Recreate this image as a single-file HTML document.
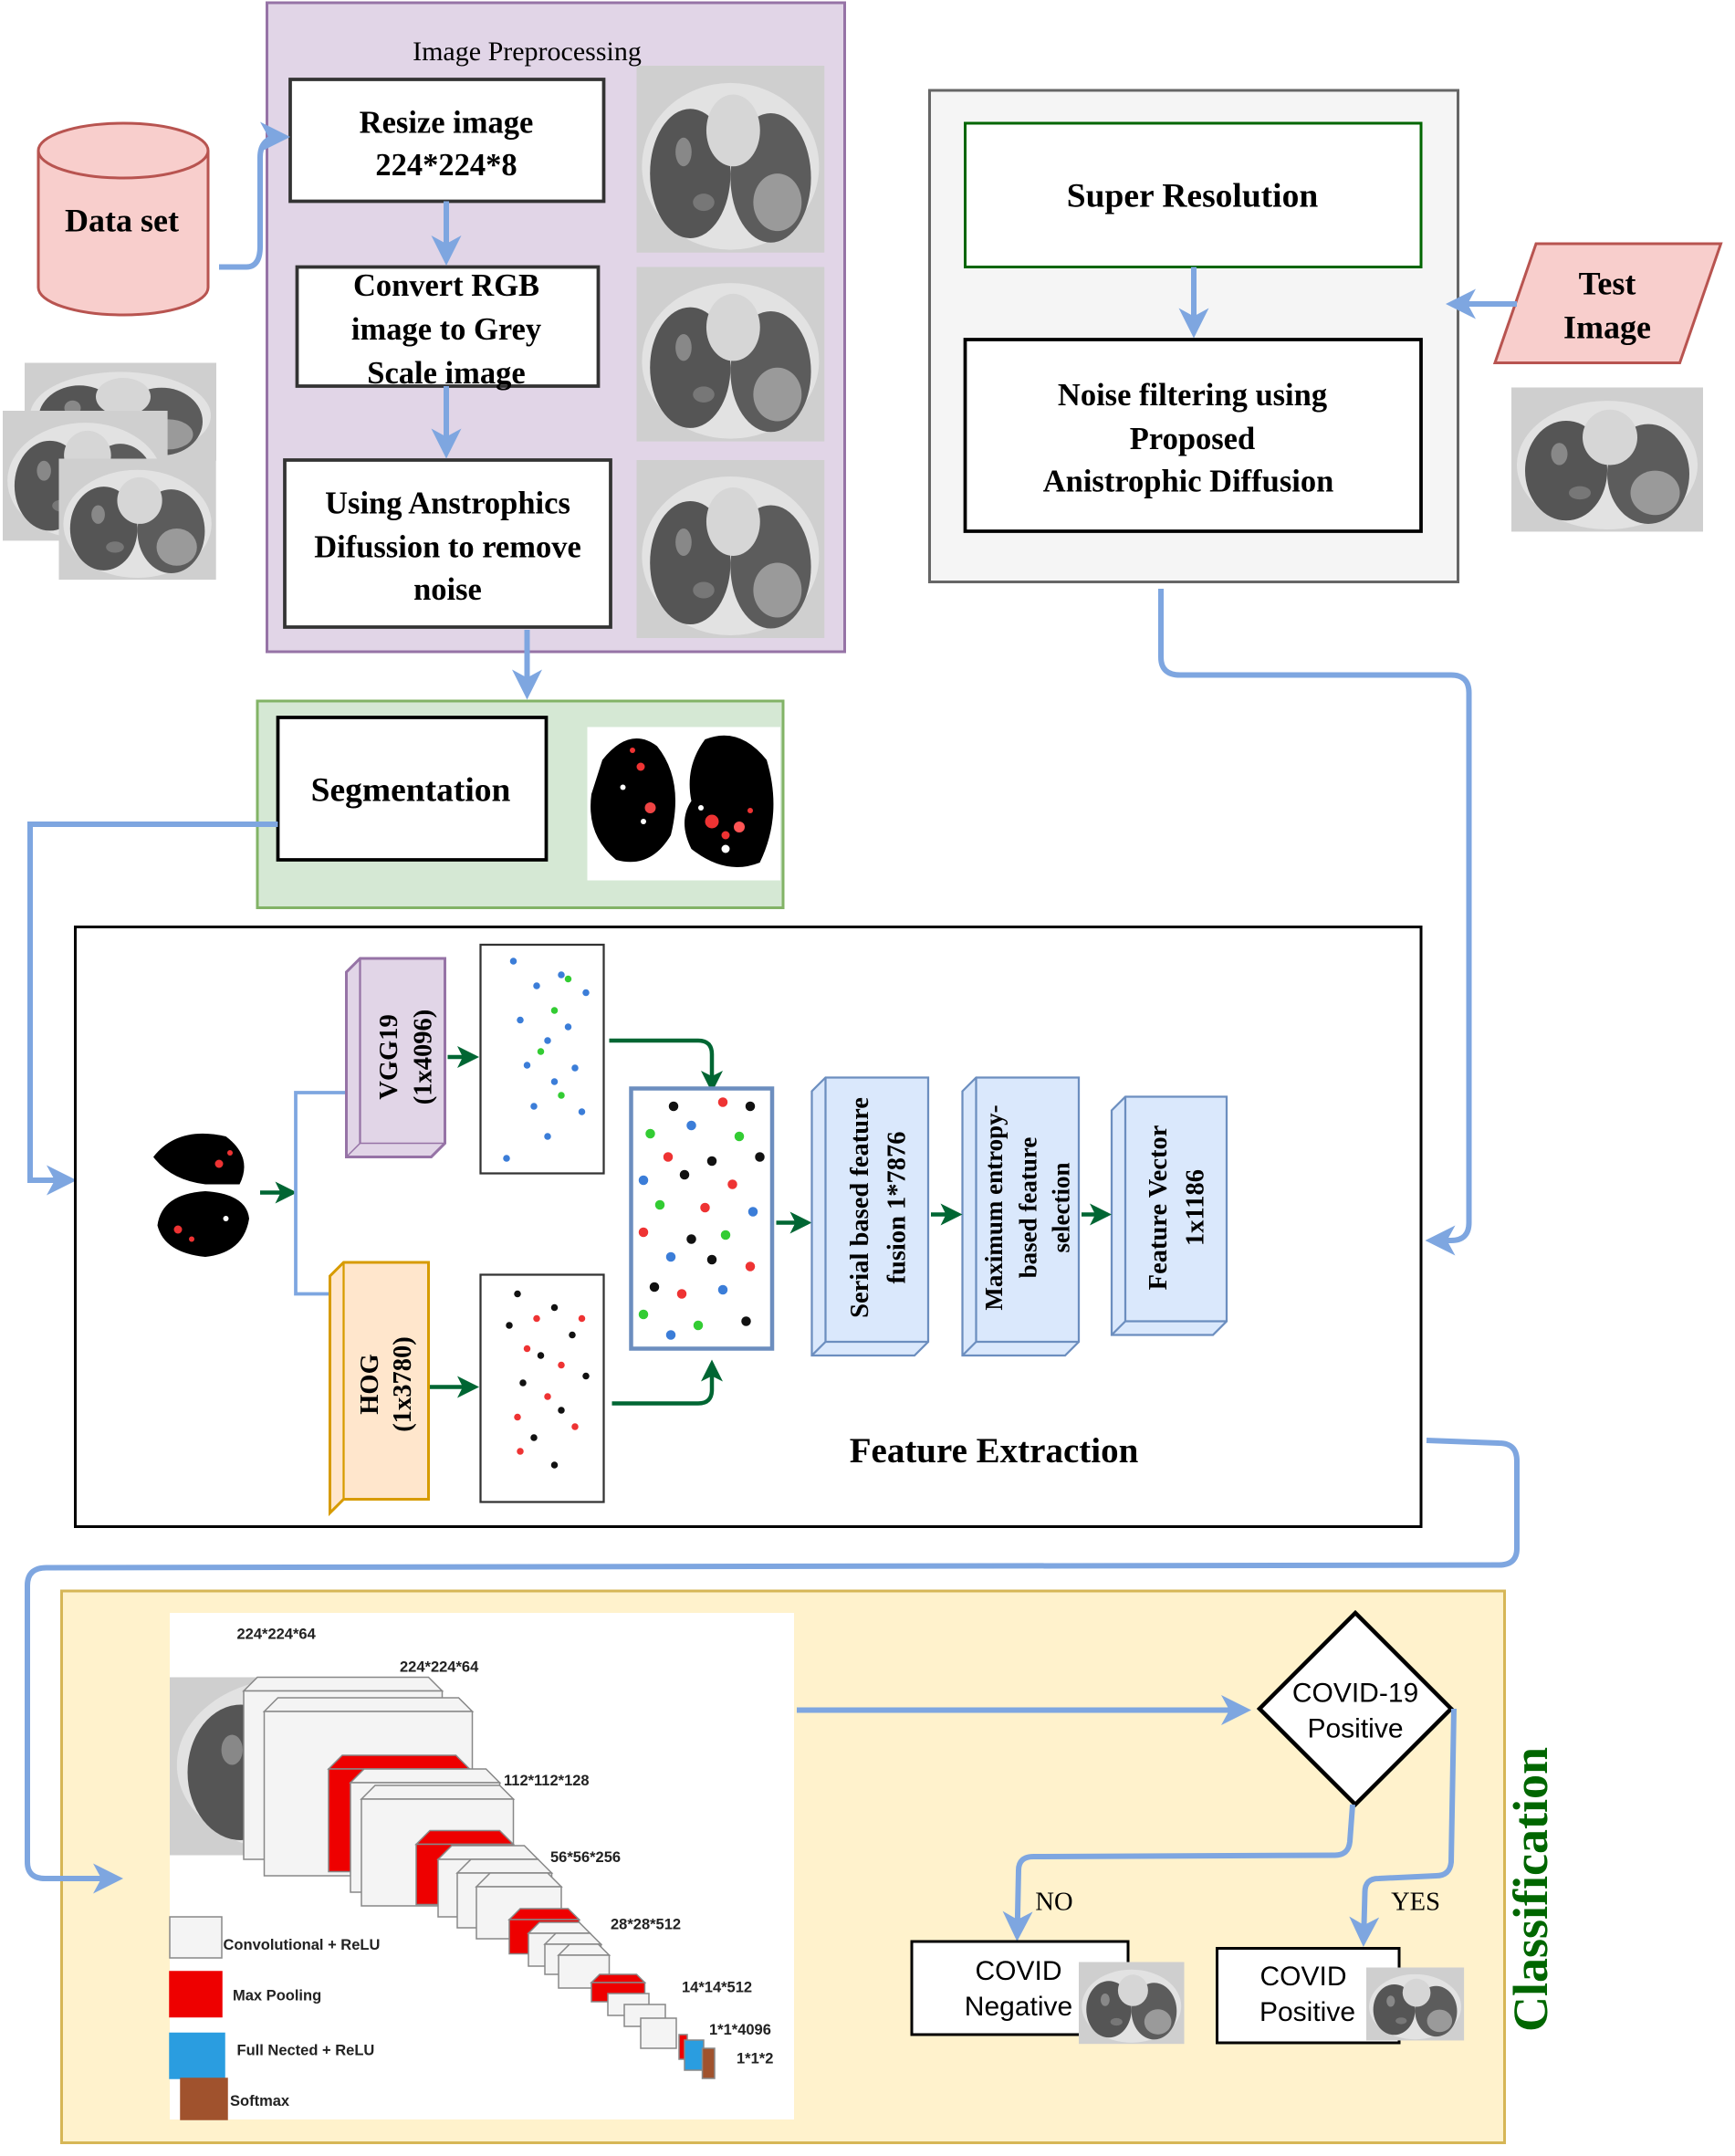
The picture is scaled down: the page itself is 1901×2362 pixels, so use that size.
<!DOCTYPE html>
<html><head><meta charset="utf-8"><style>
html,body{margin:0;padding:0;background:#fff;}
svg{display:block}
text{font-family:"Liberation Serif",serif;}
.s, .s text, text.s{font-family:"Liberation Sans",sans-serif !important;}
</style></head><body>
<svg width="1901" height="2362" viewBox="0 0 1267.33 1574.67" preserveAspectRatio="none" xmlns="http://www.w3.org/2000/svg">
<defs>
<marker id="abB" markerWidth="22" markerHeight="22" refX="18" refY="11" orient="auto" markerUnits="userSpaceOnUse" viewBox="0 0 22 22"><path d="M0,0 L22,11 L0,22 L6,11z" fill="#7ea6e0"/></marker>
<marker id="ag" markerWidth="16" markerHeight="16" refX="13" refY="8" orient="auto" markerUnits="userSpaceOnUse" viewBox="0 0 16 16"><path d="M0,0 L16,8 L0,16 L4,8z" fill="#006633"/></marker>
<g id="ctimg">
<rect width="140" height="130" fill="#cfcfcf"/>
<ellipse cx="70" cy="70" rx="66" ry="58" fill="#e2e2e2"/>
<ellipse cx="40" cy="75" rx="30" ry="45" fill="#555"/>
<ellipse cx="100" cy="78" rx="30" ry="45" fill="#5c5c5c"/>
<ellipse cx="72" cy="45" rx="20" ry="25" fill="#d6d6d6"/>
<ellipse cx="105" cy="95" rx="18" ry="20" fill="#9a9a9a"/>
<ellipse cx="35" cy="60" rx="6" ry="10" fill="#888"/>
<ellipse cx="50" cy="95" rx="8" ry="6" fill="#777"/>
</g>
</defs>

<!-- Image preprocessing -->
<rect x="195" y="2" width="422" height="474" fill="#e1d5e7" stroke="#9673a6" stroke-width="2"/>
<text x="385" y="44" font-size="20" text-anchor="middle">Image Preprocessing</text>
<rect x="212" y="58" width="229" height="89" fill="#fff" stroke="#333" stroke-width="2.5"/>
<text x="326" y="97" font-size="23" font-weight="bold" text-anchor="middle">Resize image</text>
<text x="326" y="128" font-size="23" font-weight="bold" text-anchor="middle">224*224*8</text>
<rect x="217" y="195" width="220" height="87" fill="#fff" stroke="#333" stroke-width="2.5"/>
<text x="326" y="216" font-size="23" font-weight="bold" text-anchor="middle">Convert RGB</text>
<text x="326" y="248" font-size="23" font-weight="bold" text-anchor="middle">image to Grey</text>
<text x="326" y="280" font-size="23" font-weight="bold" text-anchor="middle">Scale image</text>
<rect x="208" y="336" width="238" height="122" fill="#fff" stroke="#333" stroke-width="2.5"/>
<text x="327" y="375" font-size="23" font-weight="bold" text-anchor="middle">Using Anstrophics</text>
<text x="327" y="407" font-size="23" font-weight="bold" text-anchor="middle">Difussion to remove</text>
<text x="327" y="438" font-size="23" font-weight="bold" text-anchor="middle">noise</text>
<line x1="326" y1="147" x2="326" y2="190" stroke="#7ea6e0" stroke-width="4" marker-end="url(#abB)"/>
<line x1="326" y1="282" x2="326" y2="331" stroke="#7ea6e0" stroke-width="4" marker-end="url(#abB)"/>
<use href="#ctimg" transform="translate(465,48) scale(0.98,1.05)"/>
<use href="#ctimg" transform="translate(465,195) scale(0.98,0.98)"/>
<use href="#ctimg" transform="translate(465,336) scale(0.98,1.0)"/>

<!-- Data set -->
<path d="M28,110 L28,210 A62,20 0 0 0 152,210 L152,110" fill="#f8cecc" stroke="#b85450" stroke-width="2"/>
<ellipse cx="90" cy="110" rx="62" ry="20" fill="#f8cecc" stroke="#b85450" stroke-width="2"/>
<text x="89" y="169" font-size="24" font-weight="bold" text-anchor="middle">Data set</text>
<path d="M160,195 L180,195 Q190,195 190,180 L190,115 Q190,100 205,100 L208,100" fill="none" stroke="#7ea6e0" stroke-width="4" marker-end="url(#abB)"/>
<use href="#ctimg" transform="translate(18,265) scale(1,0.55)"/>
<use href="#ctimg" transform="translate(2,300) scale(0.86,0.73)"/>
<use href="#ctimg" transform="translate(43,335) scale(0.82,0.68)"/>

<!-- super resolution -->
<rect x="679" y="66" width="386" height="359" fill="#f5f5f5" stroke="#666" stroke-width="2"/>
<rect x="705" y="90" width="333" height="105" fill="#fff" stroke="#006600" stroke-width="2"/>
<text x="871" y="151" font-size="25" font-weight="bold" text-anchor="middle">Super  Resolution</text>
<line x1="872" y1="195" x2="872" y2="243" stroke="#7ea6e0" stroke-width="4" marker-end="url(#abB)"/>
<rect x="705" y="248" width="333" height="140" fill="#fff" stroke="#000" stroke-width="2.5"/>
<text x="871" y="296" font-size="23" font-weight="bold" text-anchor="middle">Noise filtering using</text>
<text x="871" y="328" font-size="23" font-weight="bold" text-anchor="middle">Proposed</text>
<text x="868" y="359" font-size="23" font-weight="bold" text-anchor="middle">Anistrophic Diffusion</text>
<polygon points="1122,178 1257,178 1227,265 1092,265" fill="#f8cecc" stroke="#b85450" stroke-width="2"/>
<text x="1174" y="215" font-size="24" font-weight="bold" text-anchor="middle">Test</text>
<text x="1174" y="247" font-size="24" font-weight="bold" text-anchor="middle">Image</text>
<line x1="1108" y1="222" x2="1060" y2="222" stroke="#7ea6e0" stroke-width="4" marker-end="url(#abB)"/>
<use href="#ctimg" transform="translate(1104,283) scale(1,0.81)"/>

<line x1="385" y1="460" x2="385" y2="507" stroke="#7ea6e0" stroke-width="4" marker-end="url(#abB)"/>

<!-- segmentation -->
<rect x="188" y="512" width="384" height="151" fill="#d5e8d4" stroke="#82b366" stroke-width="2"/>
<rect x="203" y="524" width="196" height="104" fill="#fff" stroke="#000" stroke-width="2.5"/>
<text x="300" y="585" font-size="25" font-weight="bold" text-anchor="middle">Segmentation</text>
<rect x="429" y="531" width="141" height="112" fill="#fff"/>
<path d="M440,555 Q460,530 480,545 Q500,570 490,610 Q475,635 450,628 Q428,610 432,580z" fill="#000"/>
<path d="M515,540 Q540,530 560,555 Q572,595 555,630 Q530,640 505,620 Q495,600 505,585 Q500,560 515,540z" fill="#000"/>
<circle cx="468" cy="560" r="3" fill="#e33"/><circle cx="462" cy="548" r="2" fill="#e33"/><circle cx="475" cy="590" r="4" fill="#e44"/><circle cx="470" cy="600" r="2" fill="#fff"/><circle cx="520" cy="600" r="5" fill="#e33"/><circle cx="530" cy="610" r="3" fill="#e33"/><circle cx="540" cy="604" r="4" fill="#f55"/><circle cx="512" cy="590" r="2" fill="#fff"/><circle cx="455" cy="575" r="2" fill="#fff"/><circle cx="530" cy="620" r="3" fill="#fff"/><circle cx="548" cy="592" r="2" fill="#e33"/>
<path d="M203,602 L22,602 L22,862 L52,862" fill="none" stroke="#7ea6e0" stroke-width="4" marker-end="url(#abB)"/>
<path d="M848,430 L848,480 Q848,493 862,493 L1060,493 Q1073,493 1073,506 L1073,893 Q1073,906 1060,906 L1045,906" fill="none" stroke="#7ea6e0" stroke-width="4" marker-end="url(#abB)"/>

<!-- feature extraction -->
<rect x="55" y="677" width="983" height="438" fill="#fff" stroke="#000" stroke-width="2"/>
<rect x="108" y="825" width="78" height="93" fill="#fff"/>
<path d="M112,845 Q130,822 165,830 Q185,845 175,865 L150,865 Q125,862 112,845z" fill="#000"/>
<path d="M115,895 Q118,872 150,870 Q180,872 182,890 Q178,915 150,918 Q120,915 115,895z" fill="#000"/>
<circle cx="160" cy="850" r="3" fill="#e33"/><circle cx="168" cy="842" r="2" fill="#e33"/><circle cx="130" cy="898" r="3" fill="#e33"/><circle cx="140" cy="905" r="2" fill="#e33"/><circle cx="165" cy="890" r="2" fill="#fff"/>
<line x1="190" y1="871" x2="214" y2="871" stroke="#006633" stroke-width="3" marker-end="url(#ag)"/>
<path d="M253,798 L216,798 L216,945 L253,945" fill="none" stroke="#7ea6e0" stroke-width="2.5"/>
<!-- VGG -->
<polygon points="253,710 263,700 325,700 325,835 315,845 253,845" fill="#e1d5e7" stroke="#9673a6" stroke-width="2"/>
<line x1="263" y1="700" x2="263" y2="835" stroke="#9673a6" stroke-width="1.5"/><line x1="253" y1="845" x2="263" y2="835" stroke="#9673a6"/><line x1="263" y1="835" x2="325" y2="835" stroke="#9673a6"/>
<text transform="translate(290,772) rotate(-90)" font-size="19" font-weight="bold" text-anchor="middle">VGG19</text>
<text transform="translate(315,772) rotate(-90)" font-size="19" font-weight="bold" text-anchor="middle">(1x4096)</text>
<!-- HOG -->
<polygon points="241,1105 251,1095 313,1095 313,922 303,922 251,922 241,932" fill="#ffe6cc" stroke="#d79b00" stroke-width="2"/>
<line x1="251" y1="922" x2="251" y2="1095" stroke="#d79b00" stroke-width="1.5"/><line x1="241" y1="932" x2="241" y2="1105" stroke="#d79b00"/>
<text transform="translate(276,1011) rotate(-90)" font-size="19" font-weight="bold" text-anchor="middle">HOG</text>
<text transform="translate(300,1011) rotate(-90)" font-size="19" font-weight="bold" text-anchor="middle">(1x3780)</text>
<line x1="327" y1="772" x2="347" y2="772" stroke="#006633" stroke-width="3" marker-end="url(#ag)"/>
<line x1="314" y1="1013" x2="347" y2="1013" stroke="#006633" stroke-width="3" marker-end="url(#ag)"/>
<rect x="351" y="690" width="90" height="167" fill="#fff" stroke="#333" stroke-width="1.5"/>
<g fill="#3b7dd8"><circle cx="375" cy="702" r="2.5"/><circle cx="410" cy="712" r="2.5"/><circle cx="392" cy="720" r="2.5"/><circle cx="428" cy="725" r="2.5"/><circle cx="380" cy="745" r="2.5"/><circle cx="415" cy="750" r="2.5"/><circle cx="400" cy="760" r="2.5"/><circle cx="385" cy="778" r="2.5"/><circle cx="420" cy="780" r="2.5"/><circle cx="405" cy="790" r="2.5"/><circle cx="390" cy="808" r="2.5"/><circle cx="425" cy="812" r="2.5"/><circle cx="400" cy="830" r="2.5"/><circle cx="370" cy="846" r="2.5"/></g>
<g fill="#3c3"><circle cx="405" cy="738" r="2.5"/><circle cx="395" cy="768" r="2.5"/><circle cx="410" cy="800" r="2.5"/><circle cx="415" cy="715" r="2.5"/></g>
<rect x="351" y="931" width="90" height="166" fill="#fff" stroke="#333" stroke-width="1.5"/>
<g fill="#111"><circle cx="378" cy="945" r="2.5"/><circle cx="405" cy="955" r="2.5"/><circle cx="372" cy="968" r="2.5"/><circle cx="418" cy="975" r="2.5"/><circle cx="395" cy="990" r="2.5"/><circle cx="428" cy="1005" r="2.5"/><circle cx="382" cy="1010" r="2.5"/><circle cx="410" cy="1030" r="2.5"/><circle cx="390" cy="1050" r="2.5"/><circle cx="405" cy="1070" r="2.5"/></g>
<g fill="#e33"><circle cx="392" cy="963" r="2.5"/><circle cx="425" cy="963" r="2.5"/><circle cx="385" cy="985" r="2.5"/><circle cx="410" cy="997" r="2.5"/><circle cx="400" cy="1020" r="2.5"/><circle cx="378" cy="1035" r="2.5"/><circle cx="420" cy="1042" r="2.5"/><circle cx="380" cy="1060" r="2.5"/></g>
<path d="M445,760 L510,760 Q520,760 520,770 L520,795" fill="none" stroke="#006633" stroke-width="3" marker-end="url(#ag)"/>
<path d="M447,1025 L510,1025 Q520,1025 520,1015 L520,996" fill="none" stroke="#006633" stroke-width="3" marker-end="url(#ag)"/>
<rect x="461" y="795" width="103" height="190" fill="#fff" stroke="#6c8ebf" stroke-width="3"/>
<g><circle cx="492" cy="808" r="3.5" fill="#111"/><circle cx="528" cy="805" r="3.5" fill="#e33"/><circle cx="548" cy="808" r="3.5" fill="#111"/><circle cx="475" cy="828" r="3.5" fill="#3c3"/><circle cx="505" cy="822" r="3.5" fill="#3b7dd8"/><circle cx="540" cy="830" r="3.5" fill="#3c3"/><circle cx="488" cy="845" r="3.5" fill="#e33"/><circle cx="520" cy="848" r="3.5" fill="#111"/><circle cx="555" cy="845" r="3.5" fill="#111"/><circle cx="470" cy="862" r="3.5" fill="#3b7dd8"/><circle cx="500" cy="858" r="3.5" fill="#111"/><circle cx="535" cy="865" r="3.5" fill="#e33"/><circle cx="482" cy="880" r="3.5" fill="#3c3"/><circle cx="515" cy="882" r="3.5" fill="#e33"/><circle cx="550" cy="885" r="3.5" fill="#3b7dd8"/><circle cx="470" cy="900" r="3.5" fill="#e33"/><circle cx="505" cy="905" r="3.5" fill="#111"/><circle cx="530" cy="902" r="3.5" fill="#3c3"/><circle cx="490" cy="918" r="3.5" fill="#3b7dd8"/><circle cx="520" cy="920" r="3.5" fill="#111"/><circle cx="548" cy="925" r="3.5" fill="#e33"/><circle cx="478" cy="940" r="3.5" fill="#111"/><circle cx="498" cy="945" r="3.5" fill="#e33"/><circle cx="528" cy="942" r="3.5" fill="#3b7dd8"/><circle cx="470" cy="960" r="3.5" fill="#3c3"/><circle cx="510" cy="968" r="3.5" fill="#3c3"/><circle cx="545" cy="965" r="3.5" fill="#111"/><circle cx="490" cy="975" r="3.5" fill="#3b7dd8"/></g>
<line x1="567" y1="893" x2="590" y2="893" stroke="#006633" stroke-width="3" marker-end="url(#ag)"/>
<g stroke="#6c8ebf" stroke-width="1.5" fill="#dae8fc">
<polygon points="593,797 603,787 678,787 678,980 668,990 593,990"/><line x1="603" y1="787" x2="603" y2="980"/><line x1="593" y1="990" x2="603" y2="980"/><line x1="603" y1="980" x2="678" y2="980"/>
<polygon points="703,797 713,787 788,787 788,980 778,990 703,990"/><line x1="713" y1="787" x2="713" y2="980"/><line x1="703" y1="990" x2="713" y2="980"/><line x1="713" y1="980" x2="788" y2="980"/>
<polygon points="812,811 822,801 896,801 896,965 886,975 812,975"/><line x1="822" y1="801" x2="822" y2="965"/><line x1="812" y1="975" x2="822" y2="965"/><line x1="822" y1="965" x2="896" y2="965"/>
</g>
<text transform="translate(634,882) rotate(-90)" font-size="19" font-weight="bold" text-anchor="middle">Serial based feature</text>
<text transform="translate(661,882) rotate(-90)" font-size="19" font-weight="bold" text-anchor="middle">fusion 1*7876</text>
<text transform="translate(732,882) rotate(-90)" font-size="18" font-weight="bold" text-anchor="middle">Maximum entropy-</text>
<text transform="translate(757,882) rotate(-90)" font-size="18" font-weight="bold" text-anchor="middle">based feature</text>
<text transform="translate(781,882) rotate(-90)" font-size="18" font-weight="bold" text-anchor="middle">selection</text>
<text transform="translate(852,882) rotate(-90)" font-size="19" font-weight="bold" text-anchor="middle">Feature Vector</text>
<text transform="translate(879,882) rotate(-90)" font-size="19" font-weight="bold" text-anchor="middle">1x1186</text>
<line x1="680" y1="887" x2="700" y2="887" stroke="#006633" stroke-width="3" marker-end="url(#ag)"/>
<line x1="790" y1="887" x2="809" y2="887" stroke="#006633" stroke-width="3" marker-end="url(#ag)"/>
<text x="726" y="1068" font-size="26" font-weight="bold" text-anchor="middle">Feature Extraction</text>

<!-- classification -->
<rect x="45" y="1162" width="1054" height="403" fill="#fff2cc" stroke="#d6b656" stroke-width="2"/>
<path d="M1042,1052 L1095,1054 Q1108,1054 1108,1067 L1108,1131 Q1108,1143 1095,1143 L34,1145 Q20,1145 20,1158 L20,1360 Q20,1372 33,1372 L86,1372" fill="none" stroke="#7ea6e0" stroke-width="4" marker-end="url(#abB)"/>
<rect x="124" y="1178" width="456" height="370" fill="#fff"/>
<g transform="translate(124,1212)"><use href="#ctimg" transform="scale(1.3,1.1)"/></g>
<rect x="124" y="1212" width="182" height="13" fill="#fff"/>
<g stroke="#888" stroke-width="1">
<g fill="#f4f4f4"><polygon points="178,1235 188,1225 313,1225 323,1235"/><rect x="178" y="1235" width="145" height="123"/></g>
<g fill="#f4f4f4"><polygon points="193,1250 203,1240 335,1240 345,1250"/><rect x="193" y="1250" width="152" height="120"/></g>
<g fill="#e00"><polygon points="240,1292 250,1282 333,1282 343,1292"/><rect x="240" y="1292" width="103" height="75"/></g>
<g fill="#f4f4f4"><polygon points="256,1302 266,1292 355,1292 365,1302"/><rect x="256" y="1302" width="109" height="80"/></g>
<g fill="#f4f4f4"><polygon points="264,1314 274,1304 365,1304 375,1314"/><rect x="264" y="1314" width="111" height="78"/></g>
<g fill="#e00"><polygon points="304,1347 314,1337 365,1337 375,1347"/><rect x="304" y="1347" width="71" height="44"/></g>
<g fill="#f4f4f4"><polygon points="320,1358 330,1348 383,1348 393,1358"/><rect x="320" y="1358" width="73" height="42"/></g>
<g fill="#f4f4f4"><polygon points="334,1368 344,1358 393,1358 403,1368"/><rect x="334" y="1368" width="69" height="40"/></g>
<g fill="#f4f4f4"><polygon points="348,1378 358,1368 400,1368 410,1378"/><rect x="348" y="1378" width="62" height="38"/></g>
<g fill="#e00"><polygon points="372,1402 380,1394 415,1394 423,1402"/><rect x="372" y="1402" width="51" height="25"/></g>
<g fill="#f4f4f4"><polygon points="386,1412 394,1404 423,1404 431,1412"/><rect x="386" y="1412" width="45" height="24"/></g>
<g fill="#f4f4f4"><polygon points="398,1420 406,1412 431,1412 439,1420"/><rect x="398" y="1420" width="41" height="22"/></g>
<g fill="#f4f4f4"><polygon points="408,1428 416,1420 437,1420 445,1428"/><rect x="408" y="1428" width="37" height="24"/></g>
<g fill="#e00"><polygon points="432,1448 438,1442 465,1442 471,1448"/><rect x="432" y="1448" width="39" height="14"/></g>
<g fill="#f4f4f4"><rect x="444" y="1456" width="30" height="16"/><rect x="456" y="1464" width="30" height="16"/><rect x="468" y="1474" width="26" height="22"/></g>
<rect x="496" y="1486" width="6" height="18" fill="#e00"/>
<rect x="500" y="1490" width="14" height="22" fill="#2a9de0"/>
<rect x="513" y="1496" width="9" height="22" fill="#a0522d"/>
<rect x="124" y="1400" width="38" height="30" fill="#f4f4f4"/>
<rect x="124" y="1440" width="38" height="33" fill="#e00" stroke="#e00"/>
<rect x="124" y="1485" width="40" height="33" fill="#2a9de0" stroke="#2a9de0"/>
<rect x="132" y="1518" width="34" height="30" fill="#a0522d" stroke="#a0522d"/>
</g>
<g class="s" font-size="11" font-weight="bold" fill="#222">
<text x="173" y="1197">224*224*64</text>
<text x="292" y="1221">224*224*64</text>
<text x="368" y="1304">112*112*128</text>
<text x="402" y="1360">56*56*256</text>
<text x="446" y="1409">28*28*512</text>
<text x="498" y="1455">14*14*512</text>
<text x="518" y="1486">1*1*4096</text>
<text x="538" y="1507">1*1*2</text>
<text x="163" y="1424">Convolutional + ReLU</text>
<text x="170" y="1461">Max Pooling</text>
<text x="173" y="1501">Full Nected + ReLU</text>
<text x="168" y="1538">Softmax</text>
</g>
<line x1="582" y1="1249" x2="910" y2="1249" stroke="#7ea6e0" stroke-width="4" marker-end="url(#abB)"/>
<polygon points="990,1178 1060,1248 990,1318 920,1248" fill="#fff" stroke="#000" stroke-width="3"/>
<text class="s" x="990" y="1243" font-size="20" text-anchor="middle">COVID-19</text>
<text class="s" x="990" y="1269" font-size="20" text-anchor="middle">Positive</text>
<path d="M988,1318 L986,1345 Q985,1355 975,1355 L755,1356 Q744,1356 744,1366 L743,1414" fill="none" stroke="#7ea6e0" stroke-width="4" marker-end="url(#abB)"/>
<path d="M1062,1248 L1060,1360 Q1059,1370 1049,1370 L1007,1372 Q997,1372 997,1382 L996,1418" fill="none" stroke="#7ea6e0" stroke-width="4" marker-end="url(#abB)"/>
<text x="770" y="1395" font-size="19" text-anchor="middle">NO</text>
<text x="1034" y="1395" font-size="19" text-anchor="middle">YES</text>
<rect x="666" y="1418" width="158" height="68" fill="#fff" stroke="#000" stroke-width="2"/>
<text class="s" x="744" y="1446" font-size="20" text-anchor="middle">COVID</text>
<text class="s" x="744" y="1472" font-size="20" text-anchor="middle">Negative</text>
<use href="#ctimg" transform="translate(788,1433) scale(0.55,0.46)"/>
<rect x="889" y="1423" width="133" height="69" fill="#fff" stroke="#000" stroke-width="2"/>
<text class="s" x="952" y="1450" font-size="20" text-anchor="middle">COVID</text>
<text class="s" x="955" y="1476" font-size="20" text-anchor="middle">Positive</text>
<use href="#ctimg" transform="translate(998,1437) scale(0.51,0.41)"/>
<text transform="translate(1130,1380) rotate(-90)" font-size="36" font-weight="bold" fill="#006600" text-anchor="middle">Classification</text>
</svg>
</body></html>
